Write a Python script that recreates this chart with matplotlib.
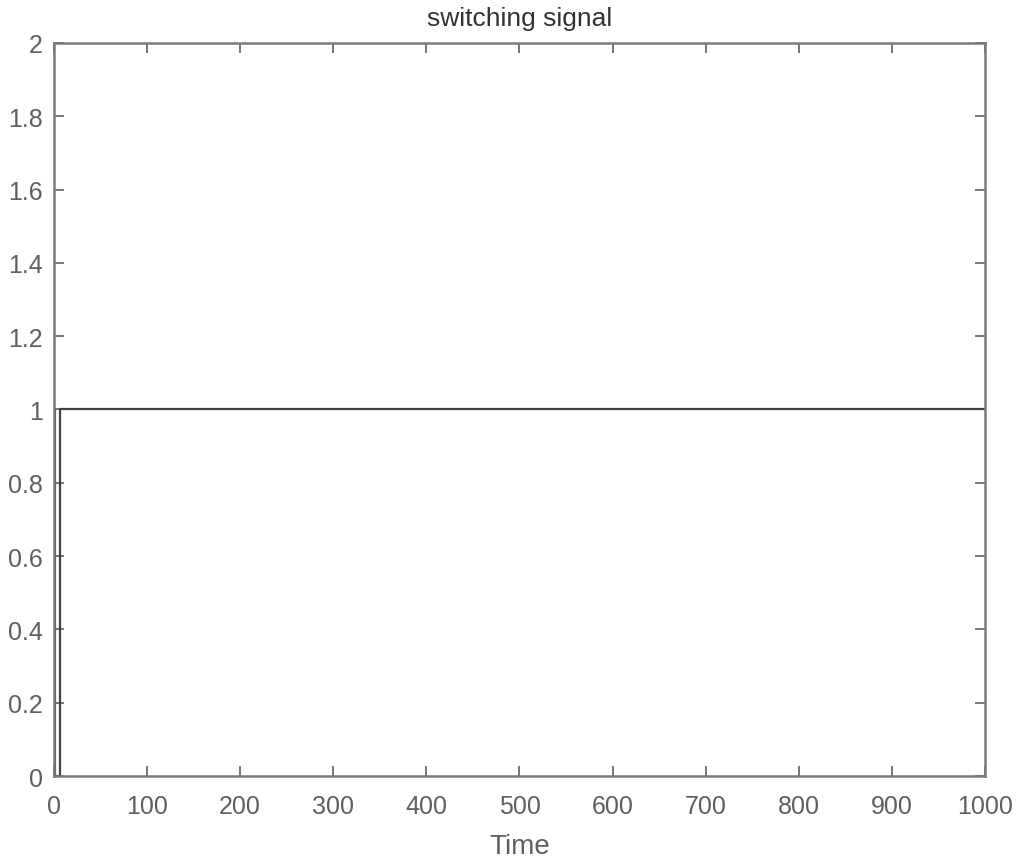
import matplotlib.pyplot as plt

# switching signal: starts on, drops briefly, then back on for the rest
t = [0, 1, 1, 7, 7, 1000]
sigma = [1, 1, 0, 0, 1, 1]

xticks = [0, 100, 200, 300, 400, 500, 600, 700, 800, 900, 1000]
yticks = [0, 0.2, 0.4, 0.6, 0.8, 1, 1.2, 1.4, 1.6, 1.8, 2]

plt.rcParams['font.family'] = ['Liberation Sans', 'DejaVu Sans']
gray = '#5f5f5f'

fig = plt.figure(figsize=(10.2, 8.62), dpi=100)
ax = fig.add_axes([0.0529, 0.0986, 0.9128, 0.8504])
ax.plot(t, sigma, color='#404040', linewidth=1.6)

ax.set_xlim(0, 1000)
ax.set_ylim(0, 2)
ax.set_xticks(xticks)
ax.set_xticklabels([str(v) for v in xticks])
ax.set_yticks(yticks)
ax.set_yticklabels([('%g' % v) for v in yticks])

ax.tick_params(direction='in', top=True, right=True, length=7, width=1.2,
               colors=gray, labelsize=18, labelcolor=gray)
ax.tick_params(axis='x', pad=13)
ax.tick_params(axis='y', pad=8)
for s in ax.spines.values():
    s.set_color('#7a7a7a')
    s.set_linewidth(1.8)

ax.set_xlabel('Time', fontsize=20, color=gray, labelpad=11)
ax.set_title('switching signal', fontsize=19, color='#333333', pad=13)

fig.savefig('out.png', dpi=100)
